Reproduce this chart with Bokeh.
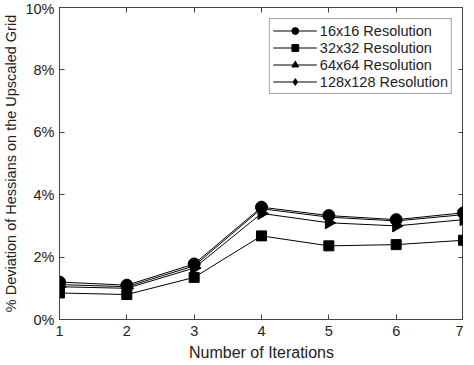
from bokeh.plotting import figure
from bokeh.models import LinearAxis, FixedTicker, Legend, LegendItem, Range1d
from bokeh.embed import file_html
from bokeh.resources import INLINE
import math

iterations = [1, 2, 3, 4, 5, 6, 7]
res16 = [1.20, 1.10, 1.78, 3.60, 3.33, 3.20, 3.42]
res32 = [0.85, 0.80, 1.35, 2.68, 2.36, 2.40, 2.54]
res64 = [1.05, 1.00, 1.65, 3.40, 3.10, 3.00, 3.20]
res128 = [1.12, 1.05, 1.72, 3.55, 3.28, 3.16, 3.36]
series_names = ["16x16 Resolution", "32x32 Resolution", "64x64 Resolution", "128x128 Resolution"]
y_ticks = [0, 2, 4, 6, 8, 10]
x_ticks = [1, 2, 3, 4, 5, 6, 7]

FONT = "Liberation Sans"

p = figure(frame_width=404, frame_height=312, output_backend="svg", toolbar_location=None,
           x_range=Range1d(1, 7), y_range=Range1d(0, 10),
           min_border_left=0, min_border_right=0, min_border_top=7, min_border_bottom=0)
p.xgrid.visible = False
p.ygrid.visible = False
p.outline_line_color = "#444444"
p.outline_line_width = 1

def style_axis(ax, ticks, labels=True):
    ax.ticker = FixedTicker(ticks=ticks)
    ax.major_tick_in = 5
    ax.major_tick_out = 0
    ax.minor_tick_line_color = None
    ax.axis_line_color = "#444444"
    ax.major_tick_line_color = "#444444"
    ax.major_label_text_font = FONT
    ax.major_label_text_font_size = "14.5px"
    ax.major_label_text_color = "#222222"
    if not labels:
        ax.major_label_text_alpha = 0
        ax.major_label_text_font_size = "0px"
        ax.major_label_standoff = 0

style_axis(p.xaxis[0], x_ticks)
style_axis(p.yaxis[0], y_ticks)
p.xaxis[0].major_label_standoff = 6
p.yaxis[0].major_label_standoff = 5
p.yaxis[0].major_label_overrides = {t: f"{t}%" for t in y_ticks}
p.xaxis[0].axis_label = "Number of Iterations"
p.yaxis[0].axis_label = "% Deviation of Hessians on the Upscaled Grid"
for ax in (p.xaxis[0], p.yaxis[0]):
    ax.axis_label_text_font = FONT
    ax.axis_label_text_font_style = "normal"
    ax.axis_label_text_color = "#222222"
p.xaxis[0].axis_label_text_font_size = "16px"
p.yaxis[0].axis_label_text_font_size = "14.5px"
p.xaxis[0].axis_label_standoff = 5
p.yaxis[0].axis_label_standoff = 3

top = LinearAxis()
style_axis(top, x_ticks, labels=False)
p.add_layout(top, "above")
right = LinearAxis()
style_axis(right, y_ticks, labels=False)
p.add_layout(right, "right")

items = []
data = [res16, res32, res64, res128]
markers = [("circle", 12, 0), ("square", 10, 0), ("triangle", 12, -math.pi / 2), ("diamond", 14, 0)]
for name, ys, (mk, sz, ang) in zip(series_names, data, markers):
    ln = p.line(iterations, ys, line_color="black", line_width=1)
    sc = p.scatter(iterations, ys, marker=mk, size=sz, angle=ang,
                   fill_color="black", line_color="black")
    items.append(LegendItem(label=name, renderers=[ln, sc]))

legend = Legend(items=items, location="top_right")
legend.label_text_font = FONT
legend.label_text_font_size = "14.5px"
legend.label_text_color = "#222222"
legend.border_line_color = "#444444"
legend.border_line_width = 1
legend.glyph_width = 44
legend.glyph_height = 17
legend.spacing = 0
legend.padding = 3
legend.margin = 11
legend.label_standoff = 3
legend.label_height = 17
p.add_layout(legend)

open("out.html", "w").write(file_html(p, INLINE))
